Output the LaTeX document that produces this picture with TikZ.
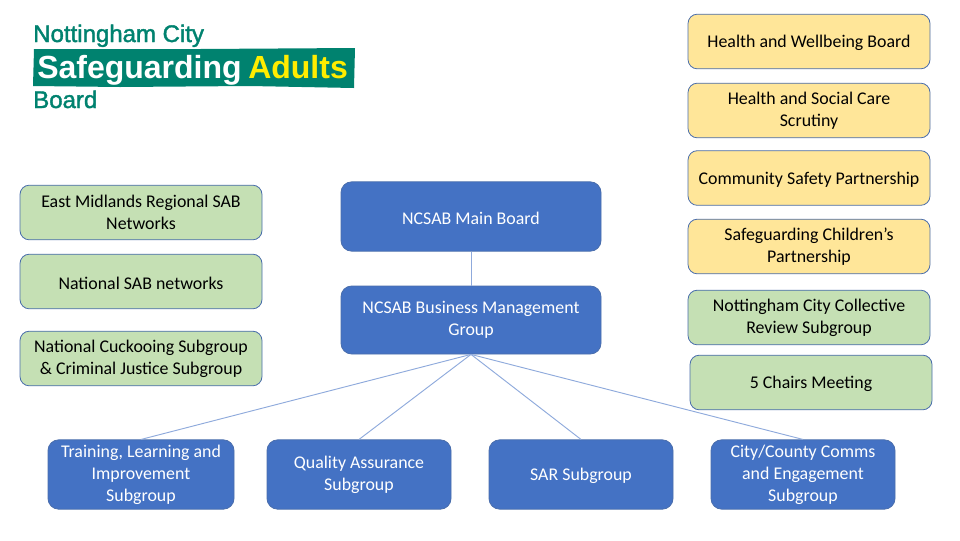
\documentclass[tikz,border=0pt]{standalone}
\usepackage{fontspec}
\setmainfont{Carlito}
\newfontfamily\logofont{Liberation Sans}
\newfontfamily\logomedium[FakeBold=1.6]{Liberation Sans}
\usetikzlibrary{positioning}
\definecolor{boardblue}{HTML}{4472C4}
\definecolor{edgeblue}{HTML}{4A6EAC}
\definecolor{linkblue}{HTML}{8FAADC}
\definecolor{palegreen}{HTML}{C5E0B4}
\definecolor{paleyellow}{HTML}{FFE699}
\definecolor{logogreen}{HTML}{00826F}
\definecolor{logoyellow}{HTML}{FFED00}
\begin{document}
\begin{tikzpicture}[x=0.75pt,y=-0.75pt,
    boxnode/.style={rectangle, rounded corners=7pt, draw=edgeblue, line width=0.6pt, align=center, inner sep=0pt, execute at begin node={\rule{0pt}{11.8pt}}, font=\fontsize{13.4}{16.5}\selectfont},
    bluenode/.style={boxnode, rounded corners=8pt, fill=boardblue, text=white},
    greennode/.style={boxnode, fill=palegreen, text=black, minimum width=181.5pt, minimum height=41pt},
    yellownode/.style={boxnode, fill=paleyellow, text=black, minimum width=181.5pt, minimum height=41pt},
    logonode/.style={inner sep=0pt, anchor=base west},
    link/.style={draw=linkblue, line width=0.7pt}]
    \useasboundingbox[fill=white] (0,0) rectangle (960,540);

    % logo
    \fill[logogreen] (34,49) -- (200,49) -- (355,48) -- (354,88) -- (250,86) -- (120,87) -- (33,86) -- cycle;
    \node[logonode, text=logogreen, font=\logomedium\fontsize{18}{20}\selectfont] (cityname) at (33,42) {Nottingham City};
    \node[logonode, text=white, font=\logofont\bfseries\fontsize{24}{24}\selectfont] (safeword) at (37,78) {Safeguarding};
    \node[logonode, text=logoyellow, font=\logofont\bfseries\fontsize{24}{24}\selectfont] (adultsword) at (248,78) {Adults};
    \node[logonode, text=logogreen, font=\logomedium\fontsize{18}{20}\selectfont] (boardword) at (33,108) {Board};

    % main column
    \node[bluenode, minimum width=195pt, minimum height=52pt] (mainboard) at (471,216.5) {NCSAB Main Board};
    \node[bluenode, minimum width=195pt, minimum height=51pt] (bmg) at (471,320) {NCSAB Business Management\\Group};

    % subgroups
    \node[bluenode, minimum width=139.5pt, minimum height=52pt] (training) at (141,474.5) {Training, Learning and\\Improvement\\Subgroup};
    \node[bluenode, minimum width=138pt, minimum height=52pt] (quality) at (359,474.5) {Quality Assurance\\Subgroup};
    \node[bluenode, minimum width=138pt, minimum height=52pt] (sar) at (581,474.5) {SAR Subgroup};
    \node[bluenode, minimum width=138pt, minimum height=52pt] (comms) at (803,474.5) {City/County Comms\\and Engagement\\Subgroup};

    % left column
    \node[greennode] (regional) at (141,212.5) {East Midlands Regional SAB\\Networks};
    \node[greennode] (national) at (141,281.5) {National SAB networks};
    \node[greennode] (cuckoo) at (141,358.5) {National Cuckooing Subgroup\\\& Criminal Justice Subgroup};

    % right column
    \node[yellownode] (wellbeing) at (809,41.5) {Health and Wellbeing Board};
    \node[yellownode] (scrutiny) at (809,110.5) {Health and Social Care\\Scrutiny};
    \node[yellownode] (safety) at (809,178) {Community Safety Partnership};
    \node[yellownode] (children) at (809,246.5) {Safeguarding Children’s\\Partnership};
    \node[greennode] (collective) at (809,317.5) {Nottingham City Collective\\Review Subgroup};
    \node[greennode] (chairs) at (811,382.5) {5 Chairs Meeting};

    \path[link] (mainboard) -- (bmg);
    \path[link] (bmg.south) -- (training.north);
    \path[link] (bmg.south) -- (quality.north);
    \path[link] (bmg.south) -- (sar.north);
    \path[link] (bmg.south) -- (comms.north);
\end{tikzpicture}
\end{document}
